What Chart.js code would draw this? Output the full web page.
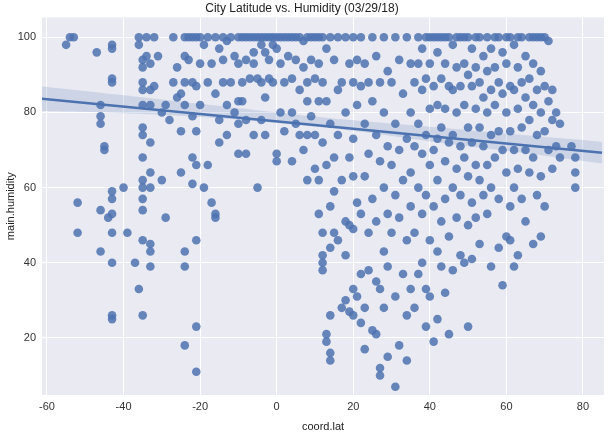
<!DOCTYPE html>
<html><head><meta charset="utf-8">
<script src="https://cdn.jsdelivr.net/npm/chart.js@4/dist/chart.umd.min.js"></script>
<style>html,body{margin:0;padding:0;background:#fff}#w{width:610px;height:438px}</style>
</head><body><div id="w"><canvas id="c"></canvas></div>
<script>
const cityPoints = [[-55,98],[-54,100],[-53,100],[-52,56],[-52,48],[-47,96],[-46,82],[-46,79],[-46,77],[-45,71],[-45,70],[-46,54],[-46,43],[-44,52],[-43,98],[-43,97],[-43,88],[-43,89],[-43,59],[-43,57],[-43,53],[-43,48],[-43,40],[-43,26],[-43,25],[-40,60],[-39,48],[-37,40],[-36,100],[-36,98],[-35,94],[-35,92],[-35,88],[-35,86],[-35,82],[-35,76],[-35,74],[-35,68],[-35,62],[-35,60],[-35,57],[-35,54],[-35,46],[-36,33],[-35,26],[-34,100],[-34,95],[-33,93],[-33,86],[-33,82],[-33,72],[-33,64],[-33,60],[-33,43],[-33,45],[-33,39],[-32,100],[-32,87],[-31,95],[-30,80],[-30,62],[-29,82],[-29,52],[-28,78],[-27,100],[-27,88],[-26,92],[-26,84],[-25,85],[-25,75],[-25,64],[-24,100],[-24,95],[-24,88],[-24,82],[-24,43],[-24,39],[-24,18],[-23,100],[-23,94],[-22,100],[-22,88],[-22,79],[-22,68],[-22,61],[-21,100],[-21,87],[-21,75],[-21,66],[-21,46],[-21,23],[-21,11],[-20,100],[-20,93],[-20,82],[-19,98],[-19,60],[-18,100],[-18,88],[-18,66],[-17,93],[-17,56],[-16,100],[-16,85],[-16,52],[-16,53],[-15,97],[-15,78],[-15,72],[-14,100],[-14,94],[-14,88],[-13,99],[-13,82],[-13,74],[-12,100],[-12,88],[-11,95],[-11,80],[-10,100],[-10,93],[-10,83],[-10,77],[-10,69],[-9,100],[-9,88],[-9,83],[-8,100],[-8,94],[-8,78],[-8,69],[-7,100],[-7,89],[-6,100],[-6,96],[-6,93],[-6,74],[-5,100],[-5,89],[-5,60],[-4,100],[-4,98],[-4,88],[-4,78],[-3,100],[-3,96],[-3,84],[-3,74],[-2,100],[-2,94],[-2,89],[-1,100],[-1,98],[-1,88],[0,100],[0,97],[0,69],[0,67],[1,100],[1,93],[1,80],[2,100],[2,88],[2,75],[3,100],[3,95],[4,100],[4,89],[4,80],[4,67],[5,100],[5,94],[5,77],[6,100],[6,86],[6,74],[7,99],[7,92],[7,70],[8,100],[8,88],[8,83],[8,74],[8,62],[9,100],[9,94],[9,79],[10,100],[10,89],[10,74],[10,65],[11,100],[11,93],[11,83],[11,62],[11,53],[12,100],[12,88],[12,72],[12,48],[12,42],[12,40],[12,38],[13,97],[13,83],[13,66],[13,21],[13,19],[14,100],[14,77],[14,55],[14,44],[14,26],[14,16],[14,14],[15,94],[15,68],[15,59],[15,48],[16,100],[16,86],[16,74],[16,46],[17,88],[17,62],[17,28],[18,100],[18,80],[18,51],[18,42],[18,30],[19,93],[19,68],[19,50],[19,27],[20,100],[20,88],[20,73],[20,63],[20,49],[20,33],[20,26],[21,94],[21,82],[21,56],[21,31],[22,100],[22,87],[22,53],[22,37],[22,24],[23,93],[23,77],[23,63],[23,28],[23,17],[24,88],[24,69],[24,48],[24,38],[25,100],[25,83],[25,57],[25,22],[26,95],[26,74],[26,51],[26,35],[26,21],[27,88],[27,67],[27,33],[27,12],[27,10],[28,100],[28,80],[28,60],[28,43],[28,28],[29,91],[29,71],[29,53],[29,39],[29,15],[30,88],[30,66],[30,48],[31,100],[31,77],[31,58],[31,31],[31,7],[32,94],[32,70],[32,52],[32,18],[33,85],[33,62],[33,37],[34,100],[34,73],[34,46],[34,26],[34,14],[35,93],[35,80],[35,64],[35,55],[35,33],[36,88],[36,71],[36,48],[36,28],[37,100],[37,93],[37,77],[37,60],[37,37],[38,97],[38,86],[38,69],[38,53],[38,40],[39,100],[39,89],[39,74],[39,58],[39,33],[39,23],[40,100],[40,93],[40,81],[40,66],[40,46],[40,31],[41,100],[41,87],[41,70],[41,55],[41,19],[42,100],[42,96],[42,82],[42,73],[42,62],[42,43],[42,25],[43,100],[43,89],[43,76],[43,51],[43,39],[44,100],[44,93],[44,81],[44,67],[44,57],[44,32],[45,100],[45,87],[45,72],[45,47],[45,21],[46,98],[46,86],[46,74],[46,60],[46,38],[47,100],[47,92],[47,80],[47,65],[47,52],[48,100],[48,87],[48,71],[48,58],[48,42],[49,100],[49,93],[49,82],[49,68],[49,40],[50,100],[50,90],[50,76],[50,63],[50,50],[50,23],[51,97],[51,87],[51,72],[51,56],[51,41],[52,100],[52,92],[52,81],[52,66],[52,52],[53,100],[53,88],[53,76],[53,62],[53,45],[54,95],[54,84],[54,71],[54,58],[55,100],[55,91],[55,80],[55,66],[55,53],[56,97],[56,86],[56,74],[56,60],[56,39],[57,100],[57,92],[57,82],[57,68],[58,100],[58,88],[58,75],[58,57],[58,44],[59,96],[59,85],[59,70],[59,34],[60,100],[60,93],[60,80],[60,64],[60,47],[61,100],[61,87],[61,75],[61,55],[61,46],[62,98],[62,86],[62,70],[62,60],[62,39],[63,100],[63,92],[63,81],[63,65],[63,42],[64,100],[64,88],[64,76],[64,57],[65,95],[65,84],[65,70],[65,51],[66,100],[66,89],[66,78],[66,64],[67,100],[67,93],[67,82],[67,68],[67,45],[68,100],[68,86],[68,74],[68,58],[69,100],[69,91],[69,80],[69,63],[69,47],[70,100],[70,87],[70,75],[70,55],[71,99],[71,83],[71,70],[72,86],[72,78],[72,65],[73,80],[73,71],[74,77],[74,68],[77,71],[78,68],[78,64],[78,60]];
const regLat = [-62, 85];
const regHum = [83.7, 69.3];
const bandLat = [-62, -40, -20, 0, 20, 40, 60, 85];
const bandUpper = [87.0, 84.6, 82.3, 80.0, 77.9, 76.2, 74.4, 72.2];
const bandLower = [80.4, 79.8, 78.8, 77.2, 75.1, 72.3, 69.8, 66.4];
const xTicks = [-60, -40, -20, 0, 20, 40, 60, 80];
const yTicks = [20, 40, 60, 80, 100];

const blue = '#4C72B0';
const bg = {id:'bg', beforeDraw(c){const a=c.chartArea,x=c.ctx;x.save();x.fillStyle='#EAEAF2';x.fillRect(a.left,a.top,a.right-a.left,a.bottom-a.top);x.restore();}};
const font = {family:'Liberation Sans, Arial, sans-serif', size:11};
new Chart(document.getElementById('c'), {
  type:'scatter',
  data:{datasets:[
    {data:cityPoints.map(p=>({x:p[0],y:p[1]})), backgroundColor:'rgba(76,114,176,0.85)', borderWidth:0, pointRadius:4.3, order:3},
    {type:'line', data:bandLat.map((v,i)=>({x:v,y:bandUpper[i]})), borderWidth:0, pointRadius:0, fill:'+1', backgroundColor:'rgba(76,114,176,0.18)', tension:0.4, order:2},
    {type:'line', data:bandLat.map((v,i)=>({x:v,y:bandLower[i]})), borderWidth:0, pointRadius:0, fill:false, tension:0.4, order:2},
    {type:'line', data:regLat.map((v,i)=>({x:v,y:regHum[i]})), borderColor:blue, borderWidth:2.5, pointRadius:0, fill:false, order:1}
  ]},
  options:{
    responsive:true, maintainAspectRatio:false, animation:false,
    layout:{padding:{left:0,right:6,top:0,bottom:0}},
    plugins:{legend:{display:false}, tooltip:{enabled:false},
      title:{display:true,text:'City Latitude vs. Humidity (03/29/18)',color:'#222',font:{family:font.family,size:12,weight:'normal'},padding:{top:1,bottom:2}}},
    scales:{
      x:{type:'linear',min:-61.3,max:85.5,
        afterBuildTicks(s){s.ticks=xTicks.map(v=>({value:v}));},
        afterFit(s){s.height=43;},
        grid:{color:'#fff',lineWidth:1,drawTicks:false}, border:{display:false},
        ticks:{color:'#333',font,padding:5},
        title:{display:true,text:'coord.lat',color:'#222',font,padding:{top:2}}},
      y:{min:4.8,max:105.3,
        afterBuildTicks(s){s.ticks=yTicks.map(v=>({value:v}));},
        afterFit(s){s.width=42;},
        grid:{color:'#fff',lineWidth:1,drawTicks:false}, border:{display:false},
        ticks:{color:'#333',font,padding:6},
        title:{display:true,text:'main.humidity',color:'#222',font,padding:{bottom:2}}}
    }
  },
  plugins:[bg]
});
</script></body></html>
